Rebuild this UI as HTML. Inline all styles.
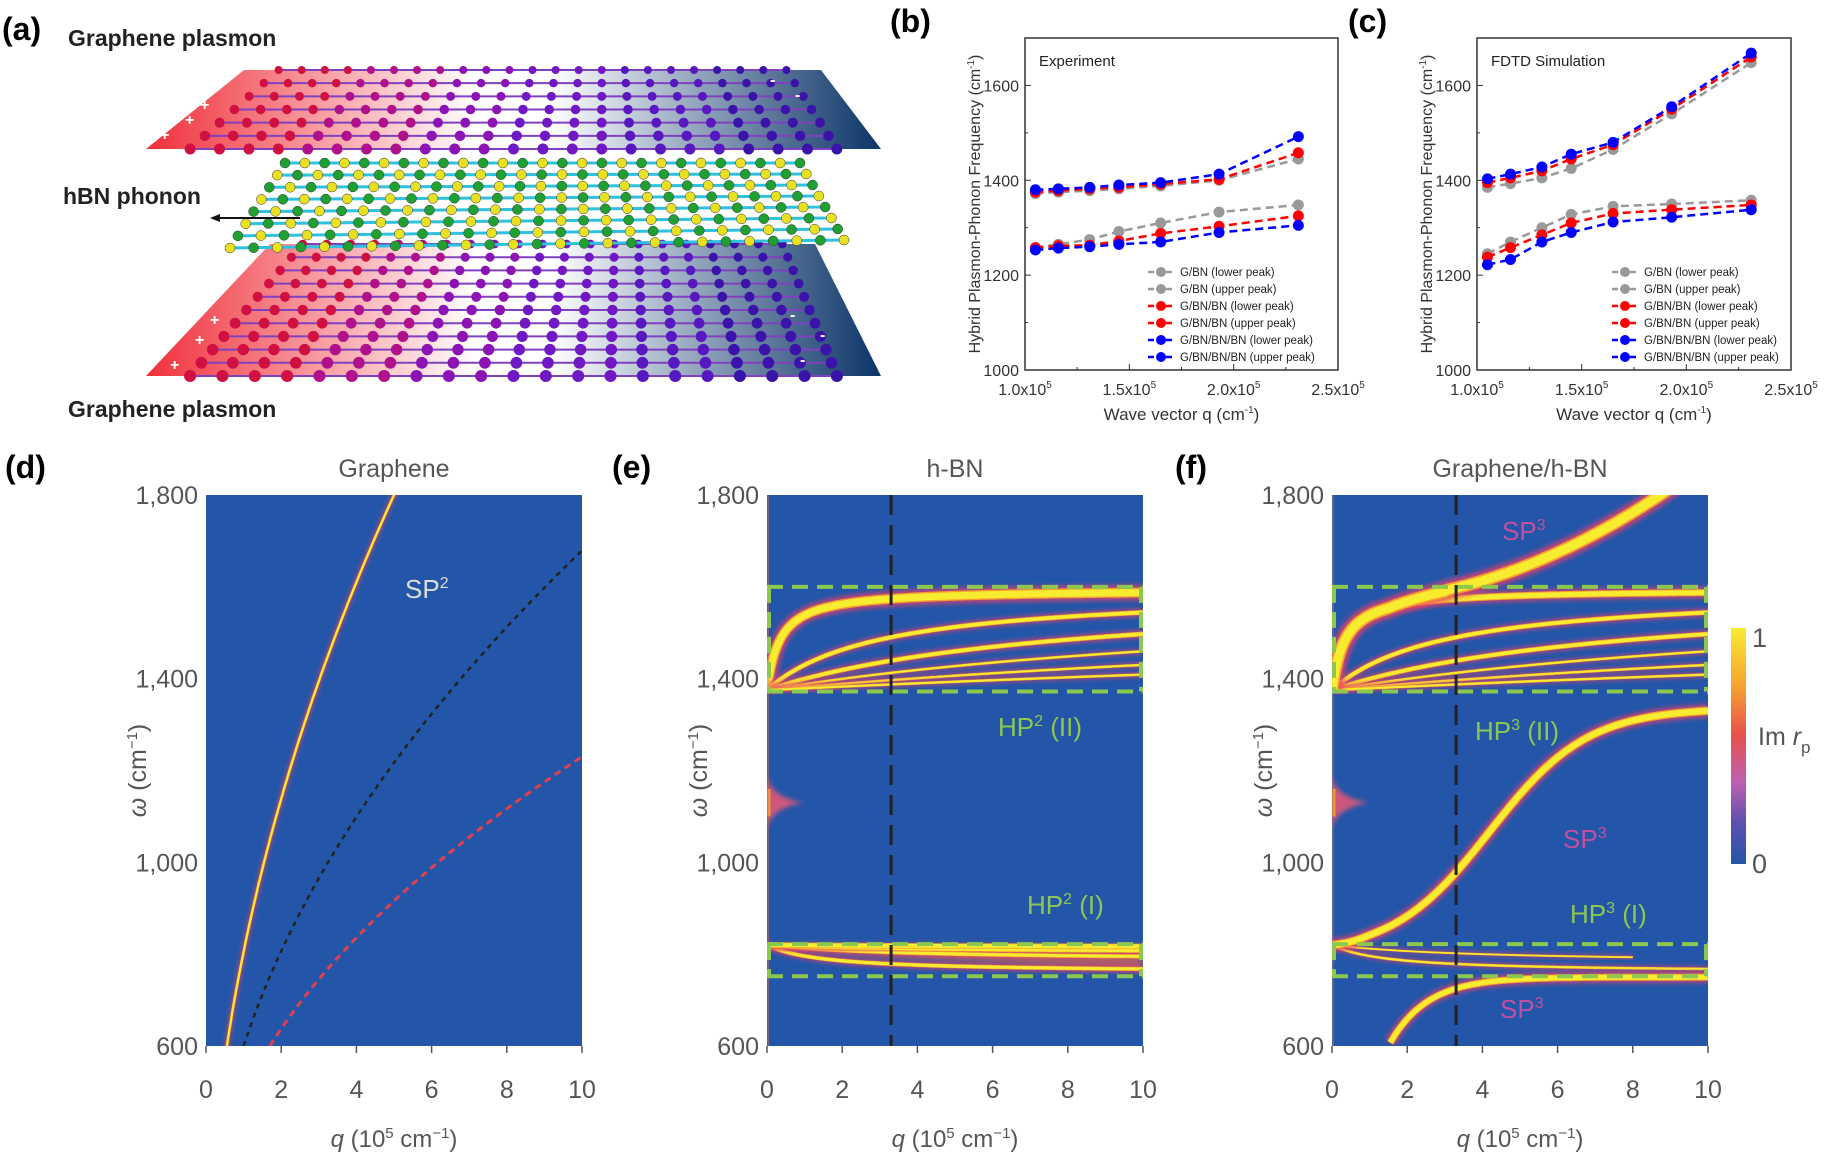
<!DOCTYPE html>
<html><head><meta charset="utf-8"><style>
html,body{margin:0;padding:0;background:#fff;}
svg{display:block;}
text{font-family:"Liberation Sans",sans-serif;}
</style></head><body>
<svg id="s" width="1825" height="1160" viewBox="0 0 1825 1160" xmlns="http://www.w3.org/2000/svg">
<defs>
<linearGradient id="sheet" x1="0" x2="1" y1="0" y2="0">
<stop offset="0" stop-color="#f0303a"/><stop offset="0.45" stop-color="#fff"/><stop offset="0.55" stop-color="#fff"/><stop offset="1" stop-color="#0b3468"/>
</linearGradient>
<linearGradient id="cb" x1="0" x2="0" y1="0" y2="1">
<stop offset="0" stop-color="#f8ec30"/><stop offset="0.25" stop-color="#f7a030"/><stop offset="0.45" stop-color="#e8504a"/><stop offset="0.65" stop-color="#c060b0"/><stop offset="0.82" stop-color="#6050b0"/><stop offset="1" stop-color="#2356a8"/>
</linearGradient>
<filter id="glow" x="-20%" y="-20%" width="140%" height="140%"><feGaussianBlur stdDeviation="2.5"/></filter>
<filter id="glow2" x="-50%" y="-50%" width="200%" height="200%"><feGaussianBlur stdDeviation="4"/></filter>
</defs>
<g id="pa"></g>
<g id="pb"></g>
<g id="pd"></g>
</svg>
<script>
const NS="http://www.w3.org/2000/svg";
function el(p,tag,attrs,txt){const e=document.createElementNS(NS,tag);for(const k in attrs)e.setAttribute(k,attrs[k]);if(txt!==undefined)e.textContent=txt;p.appendChild(e);return e;}
const S=document.getElementById('s');
// ---------- panel a ----------
const A=document.getElementById('pa');
el(A,'text',{x:2,y:40,'font-family':'Liberation Serif,serif','font-weight':'bold','font-size':32},'(a)');
el(A,'text',{x:68,y:46,'font-weight':'bold','font-size':23,fill:'#222'},'Graphene plasmon');
el(A,'text',{x:68,y:417,'font-weight':'bold','font-size':23,fill:'#222'},'Graphene plasmon');
el(A,'text',{x:63,y:204,'font-weight':'bold','font-size':23,fill:'#222'},'hBN phonon');
function sheet(bl,tl,tr,br,rows,cols,hbn,rad){
  el(A,'polygon',{points:[bl,tl,tr,br].map(p=>p.join(',')).join(' '),fill:hbn?'none':'url(#sheet)'});
  const g=el(A,'g',{});
  const m=0.06;
  for(let r=0;r<=rows;r++){const t=r/rows;
    let L=[tl[0]+(bl[0]-tl[0])*t,tl[1]+(bl[1]-tl[1])*t],R=[tr[0]+(br[0]-tr[0])*t,tr[1]+(br[1]-tr[1])*t];
    if(!hbn){const L2=[L[0]+(R[0]-L[0])*m,L[1]],R2=[R[0]-(R[0]-L[0])*m,R[1]];L=L2;R=R2;}
    el(g,'line',{x1:L[0],y1:L[1],x2:R[0],y2:R[1],stroke:hbn?'#30c0e0':'#8040c0','stroke-width':hbn?3:2});
    for(let c=0;c<=cols;c++){const u=c/cols;const x=L[0]+(R[0]-L[0])*u,y=L[1]+(R[1]-L[1])*u;
      let f;
      if(hbn){f=((r+c)%2)?'#e8e020':'#20a030';}
      else{const cs=['#d01040','#b0108a','#8c14b4','#7018c4','#5818c0','#3a14a8'];f=cs[Math.min(5,Math.floor(u*6))];}
      el(g,'circle',{cx:x,cy:y,r:hbn?5:rad*(0.8+t*0.3),fill:f,stroke:hbn?'#333':'none','stroke-width':0.5});
    }}
}
sheet([146,149],[244,70],[821,70],[881,149],6,22,false,5);
sheet([146,376],[270,244],[815,244],[881,376],10,20,false,5.5);
sheet([230,248],[285,163],[800,163],[844,240],7,26,true);
el(A,'line',{x1:215,y1:218,x2:300,y2:218,stroke:'#111','stroke-width':2});
el(A,'polygon',{points:'210,218 220,214 220,222',fill:'#111'});
for(const [x,y] of [[170,370],[195,345],[210,325],[160,140],[185,125],[200,110]])el(A,'text',{x:x,y:y,'font-size':16,fill:'#fff','font-weight':'bold'},'+');
for(const [x,y] of [[800,365],[820,340],[790,320],[770,85],[795,100]])el(A,'text',{x:x,y:y,'font-size':16,fill:'#fff','font-weight':'bold'},'-');
// ---------- panels b,c ----------
const B=document.getElementById('pb');
const qs=[1.05,1.16,1.31,1.45,1.65,1.93,2.31];
const dataB=[['#999',[1258,1265,1275,1292,1310,1333,1348]],['#999',[1372,1375,1378,1382,1388,1400,1445]],
['#f00',[1258,1262,1263,1272,1288,1303,1325]],['#f00',[1375,1378,1382,1385,1392,1402,1458]],
['#00f',[1253,1257,1260,1265,1270,1290,1305]],['#00f',[1380,1382,1385,1390,1395,1413,1492]]];
const dataC=[['#999',[1245,1270,1300,1328,1345,1350,1358]],['#999',[1385,1393,1405,1425,1465,1540,1648]],
['#f00',[1238,1258,1285,1310,1330,1338,1348]],['#f00',[1395,1405,1420,1445,1475,1550,1660]],
['#00f',[1222,1233,1270,1290,1312,1322,1338]],['#00f',[1403,1413,1428,1455,1480,1555,1668]]];
const labs=['G/BN (lower peak)','G/BN (upper peak)','G/BN/BN (lower peak)','G/BN/BN (upper peak)','G/BN/BN/BN (lower peak)','G/BN/BN/BN (upper peak)'];
function small(x0,x1,y0,y1,data,title,lab,labx,legx){
  const X=q=>x0+(q-1)/1.5*(x1-x0), Y=w=>y1-(w-1000)/700*(y1-y0);
  el(B,'text',{x:labx,y:32,'font-family':'Liberation Serif,serif','font-weight':'bold','font-size':32},lab);
  el(B,'rect',{x:x0,y:y0,width:x1-x0,height:y1-y0,fill:'none',stroke:'#333','stroke-width':1.5});
  for(let w=1000;w<=1700;w+=100){const y=Y(w);el(B,'line',{x1:x0,y1:y,x2:x0+(w%200?3:6),y2:y,stroke:'#333'});
    if(w%200==0&&w<1700)el(B,'text',{x:x0-6,y:y+6,'text-anchor':'end','font-size':16,fill:'#333'},w);}
  for(let q=1;q<=2.5;q+=0.25){const x=X(q);el(B,'line',{x1:x,y1:y1,x2:x,y2:y1-((q*4)%2?3:6),stroke:'#333'});}
  [1,1.5,2,2.5].forEach(q=>{const t=el(B,'text',{x:X(q),y:y1+25,'text-anchor':'middle','font-size':16,fill:'#333'},q.toFixed(1)+'x10');el(t,'tspan',{dy:-7,'font-size':10},'5');});
  const t=el(B,'text',{x:(x0+x1)/2,y:y1+50,'text-anchor':'middle','font-size':17,fill:'#333'},'Wave vector q (cm');el(t,'tspan',{dy:-7,'font-size':10},'-1');el(t,'tspan',{dy:7},')');
  const ty=el(B,'text',{transform:`translate(${x0-45},${(y0+y1)/2}) rotate(-90)`,'text-anchor':'middle','font-size':16,fill:'#333'},'Hybrid Plasmon-Phonon Frequency (cm');el(ty,'tspan',{dy:-6,'font-size':10},'-1');el(ty,'tspan',{dy:6},')');
  el(B,'text',{x:x0+14,y:y0+28,'font-size':15,fill:'#222'},title);
  data.forEach(([c,v])=>{el(B,'polyline',{points:v.map((w,i)=>X(qs[i])+','+Y(w)).join(' '),fill:'none',stroke:c,'stroke-width':2.5,'stroke-dasharray':'8,5'});
    v.forEach((w,i)=>el(B,'circle',{cx:X(qs[i]),cy:Y(w),r:5.5,fill:c}));});
  data.forEach(([c],i)=>{const y=y0+234+i*17;el(B,'line',{x1:legx,y1:y,x2:legx+26,y2:y,stroke:c,'stroke-width':2.5,'stroke-dasharray':'6,3'});
    el(B,'circle',{cx:legx+13,cy:y,r:5,fill:c});el(B,'text',{x:legx+32,y:y+4,'font-size':11.5,fill:'#222'},labs[i]);});
}
small(1025,1338,38,370,dataB,'Experiment','(b)',890,1148);
small(1477,1791,38,370,dataC,'FDTD Simulation','(c)',1348,1612);
// ---------- panels d,e,f ----------
const D=document.getElementById('pd');
const PY0=495,PY1=1046;
function panel(x0,lab,title,labx){
  const X=q=>x0+q*37.6, Y=w=>PY1-(w-600)*(PY1-PY0)/1200;
  el(D,'rect',{x:x0,y:PY0,width:376,height:PY1-PY0,fill:'#2356a8'});
  el(D,'text',{x:labx,y:478,'font-family':'Liberation Serif,serif','font-weight':'bold','font-size':32},lab);
  el(D,'text',{x:x0+188,y:477,'text-anchor':'middle','font-size':25,fill:'#555'},title);
  [600,1000,1400,1800].forEach(w=>{el(D,'text',{x:x0-8,y:Y(w)+9,'text-anchor':'end','font-size':25,fill:'#555'},w.toLocaleString('en-US'));});
  for(let q=0;q<=10;q+=2){el(D,'line',{x1:X(q),y1:PY1,x2:X(q),y2:PY1+7,stroke:'#555','stroke-width':1.5});
    el(D,'text',{x:X(q),y:1098,'text-anchor':'middle','font-size':25,fill:'#555'},q);}
  const t=el(D,'text',{x:x0+188,y:1147,'text-anchor':'middle','font-size':24,fill:'#555'});
  el(t,'tspan',{'font-style':'italic'},'q');el(t,'tspan',{},' (10');el(t,'tspan',{dy:-9,'font-size':15},'5');el(t,'tspan',{dy:9},' cm');el(t,'tspan',{dy:-9,'font-size':15},'−1');el(t,'tspan',{dy:9},')');
  const ty=el(D,'text',{transform:`translate(${x0-60},${(PY0+PY1)/2}) rotate(-90)`,'text-anchor':'middle','font-size':25,fill:'#555'});
  el(ty,'tspan',{'font-style':'italic'},'ω');el(ty,'tspan',{},' (cm');el(ty,'tspan',{dy:-9,'font-size':15},'−1');el(ty,'tspan',{dy:9},')');
  const g=el(D,'g',{});
  const clip='c'+lab.charCodeAt(1);const cp=el(S.querySelector('defs'),'clipPath',{id:clip});el(cp,'rect',{x:x0,y:PY0,width:376,height:PY1-PY0});
  g.setAttribute('clip-path',`url(#${clip})`);
  return {g,X,Y,x0};
}
function curve(P,f,a,b,w,opts){
  let d='';for(let i=0;i<=200;i++){const q=a+(b-a)*i/200;const v=f(q);d+=(i?'L':'M')+P.X(q).toFixed(1)+','+P.Y(v).toFixed(1);}
  if(opts&&opts.dash){el(P.g,'path',{d,fill:'none',stroke:opts.color,'stroke-width':w,'stroke-dasharray':opts.dash});return;}
  el(P.g,'path',{d,fill:'none',stroke:'#e8406a','stroke-width':w*2.2,filter:'url(#glow)',opacity:0.8});
  el(P.g,'path',{d,fill:'none',stroke:'#f7a030','stroke-width':w*1.4});
  el(P.g,'path',{d,fill:'none',stroke:'#f8ec30','stroke-width':w});
}
function label(P,x,y,txt,sup,rest,col){const t=el(D,'text',{x,y,'font-size':26,fill:col});el(t,'tspan',{},txt);el(t,'tspan',{dy:-10,'font-size':16},sup);if(rest)el(t,'tspan',{dy:10},rest);}
// d
const Pd=panel(206,'(d)','Graphene',5);
curve(Pd,q=>805*Math.sqrt(q),0.45,5.2,2);
curve(Pd,q=>600+499*(Math.sqrt(q)-1),1.0,10,2.5,{dash:'5,5',color:'#222'});
curve(Pd,q=>600+339*(Math.sqrt(q)-Math.sqrt(1.7)),1.7,10,3,{dash:'7,5',color:'#e04050'});
label(Pd,405,598,'SP','2','','#ddd');
function bands(P,sp3){
  curve(P,q=>1375+220*q/(q+0.35),0,10,sp3?5:7);
  [3,8,16,30,55].forEach((k,i)=>curve(P,q=>1375+220*q/(q+k),0.1,10,i<2?3.5:2));
  if(!sp3){
    el(P.g,'path',{d:`M${P.X(0)},${P.Y(820)} L${P.X(10)},${P.Y(815)} L${P.X(10)},${P.Y(765)} Q${P.X(3)},${P.Y(790)} ${P.X(0)},${P.Y(820)}Z`,fill:'#e86050',filter:'url(#glow2)',opacity:0.7});
    curve(P,q=>820-60*q/(q+1.5),0,10,3);
    curve(P,q=>820-35*q/(q+4),0,10,3);
    curve(P,q=>820-18*q/(q+6),0,10,4);
    curve(P,q=>820-5*q/(q+6),0,10,4);
  } else {
    curve(P,q=>820-60*q/(q+1.5),0,10,2);
    curve(P,q=>820-40*q/(q+4),0,8,1.5);
  }
  // left spike glow
  el(P.g,'path',{d:`M${P.X(0)},${P.Y(1190)} Q${P.X(0.1)},${P.Y(1140)} ${P.X(1)},${P.Y(1130)} Q${P.X(0.1)},${P.Y(1120)} ${P.X(0)},${P.Y(1070)}Z`,fill:'#e05878',filter:'url(#glow)',opacity:0.9});
  el(P.g,'line',{x1:P.X(0.05),y1:P.Y(1160),x2:P.X(0.05),y2:P.Y(1100),stroke:'#f0a030','stroke-width':3});
  el(P.g,'line',{x1:P.X(0.03),y1:PY0,x2:P.X(0.03),y2:PY1,stroke:'#e07050','stroke-width':1.5,opacity:0.5});
}
function boxes(P){
  const gr='#8cc850';
  [[1600],[1372],[822],[752]].forEach(([w])=>el(D,'line',{x1:P.x0,y1:P.Y(w),x2:P.x0+376,y2:P.Y(w),stroke:gr,'stroke-width':4,'stroke-dasharray':'16,9'}));
  [[1372,1600],[752,822]].forEach(([a,b])=>{[P.x0+2,P.x0+374].forEach(x=>el(D,'line',{x1:x,y1:P.Y(b),x2:x,y2:P.Y(a),stroke:gr,'stroke-width':4,'stroke-dasharray':'16,9'}));});
  el(D,'line',{x1:P.X(3.3),y1:PY0,x2:P.X(3.3),y2:PY1,stroke:'#222','stroke-width':3,'stroke-dasharray':'20,10'});
}
const Pe=panel(767,'(e)','h-BN',612);
bands(Pe,false);boxes(Pe);
label(Pe,998,736,'HP','2',' (II)','#8cc850');label(Pe,1027,914,'HP','2',' (I)','#8cc850');
const Pf=panel(1332,'(f)','Graphene/h-BN',1175);
bands(Pf,true);
curve(Pf,q=>q<3?1375+220*q/(q+0.35)+(q>1.5?(q-1.5)*12:0):1592+18*(q-3)+3.2*(q-3)*(q-3),0,9.5,9);
curve(Pf,q=>{const s=x=>1/(1+Math.exp(-(x-4.2)/1.3));return 820+510*(s(q)-s(0))/(s(10)-s(0))*(1)+ (q<1?-8*q*(1-q):0);},0,10,6);
curve(Pf,q=>600+150*(1-Math.exp(-(q-1.5)/1.0)),1.55,10,5);
boxes(Pf);
label(Pf,1502,540,'SP','3','','#c050a0');
label(Pf,1563,848,'SP','3','','#c050a0');
label(Pf,1500,1018,'SP','3','','#c050a0');
label(Pf,1475,740,'HP','3',' (II)','#8cc850');label(Pf,1570,923,'HP','3',' (I)','#8cc850');
// colorbar
el(D,'rect',{x:1731,y:628,width:15,height:236,fill:'url(#cb)'});
el(D,'text',{x:1752,y:647,'font-size':27,fill:'#555'},'1');
el(D,'text',{x:1752,y:873,'font-size':27,fill:'#555'},'0');
const cl=el(D,'text',{x:1758,y:745,'font-size':25,fill:'#555'},'Im ');el(cl,'tspan',{'font-style':'italic'},'r');el(cl,'tspan',{dy:8,'font-size':17},'p');
</script>
</body></html>
